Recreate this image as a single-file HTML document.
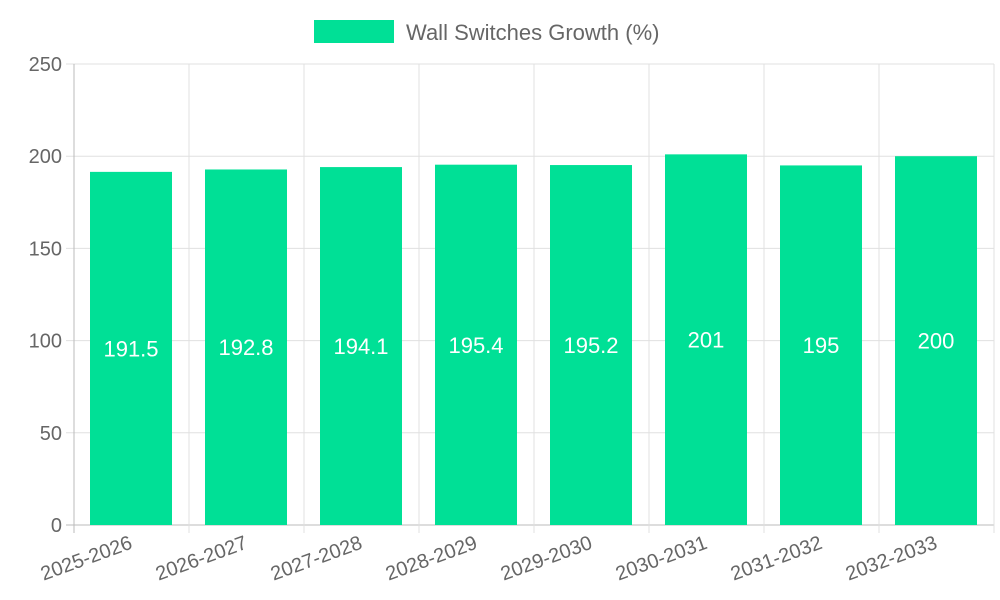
<!DOCTYPE html>
<html><head><meta charset="utf-8"><style>body{margin:0;background:#fff}svg{display:block;font-family:"Liberation Sans",sans-serif}</style></head>
<body>
<svg id="c" width="1000" height="600"></svg>
<script>
const categories=["2025-2026","2026-2027","2027-2028","2028-2029","2029-2030","2030-2031","2031-2032","2032-2033"];
const values=[191.5,192.8,194.1,195.4,195.2,201,195,200];
const yTicks=[0,50,100,150,200,250];
const ns="http://www.w3.org/2000/svg",svg=document.getElementById('c');
const L=74,R=994,T=64,B=525,yMax=250;
const y=v=>B-(v/yMax)*(B-T);
const slot=(R-L)/categories.length;
const x=i=>L+slot*i;
function mk(t,a,p){const e=document.createElementNS(ns,t);for(const k in a)e.setAttribute(k,a[k]);(p||svg).appendChild(e);return e;}
// legend
const lg=mk('g',{});


mk('rect',{x:314,y:20,width:80,height:23,fill:'#00E096'},lg);
const lt=mk('text',{x:406,y:40,'font-size':22,fill:'#666'},lg);lt.textContent='Wall Switches Growth (%)';
// grid
yTicks.forEach(v=>{
  const g=mk('line',{x1:66,x2:R,y1:y(v),y2:y(v),stroke:v===0?'#bbb':'#e0e0e0','stroke-width':1});
  
  
  const t=mk('text',{x:62,y:y(v)+7,'font-size':20,fill:'#666','text-anchor':'end'});t.textContent=v;
  
  
});
for(let i=0;i<=categories.length;i++){
  const g=mk('line',{x1:x(i),x2:x(i),y1:T,y2:B+8,stroke:i===0?'#bbb':'#e0e0e0','stroke-width':1});
  
  
}
categories.forEach((c,i)=>{
  const bx=x(i)+16,bw=slot-33;
  const r=mk('rect',{x:bx,y:y(values[i]),width:bw,height:B-y(values[i]),fill:'#00E096'});
  
  
  const vt=mk('text',{x:bx+bw/2,y:(y(values[i])+B)/2+8,'font-size':22,fill:'#fff','text-anchor':'middle'});vt.textContent=values[i];
  
  
  const cx=x(i)+slot/2+2,cy=548;
  const t=mk('text',{x:cx,y:cy,'font-size':20,fill:'#666','text-anchor':'end',transform:`rotate(-20 ${cx} ${cy})`});t.textContent=c;
  
  
});
</script>
</body></html>
